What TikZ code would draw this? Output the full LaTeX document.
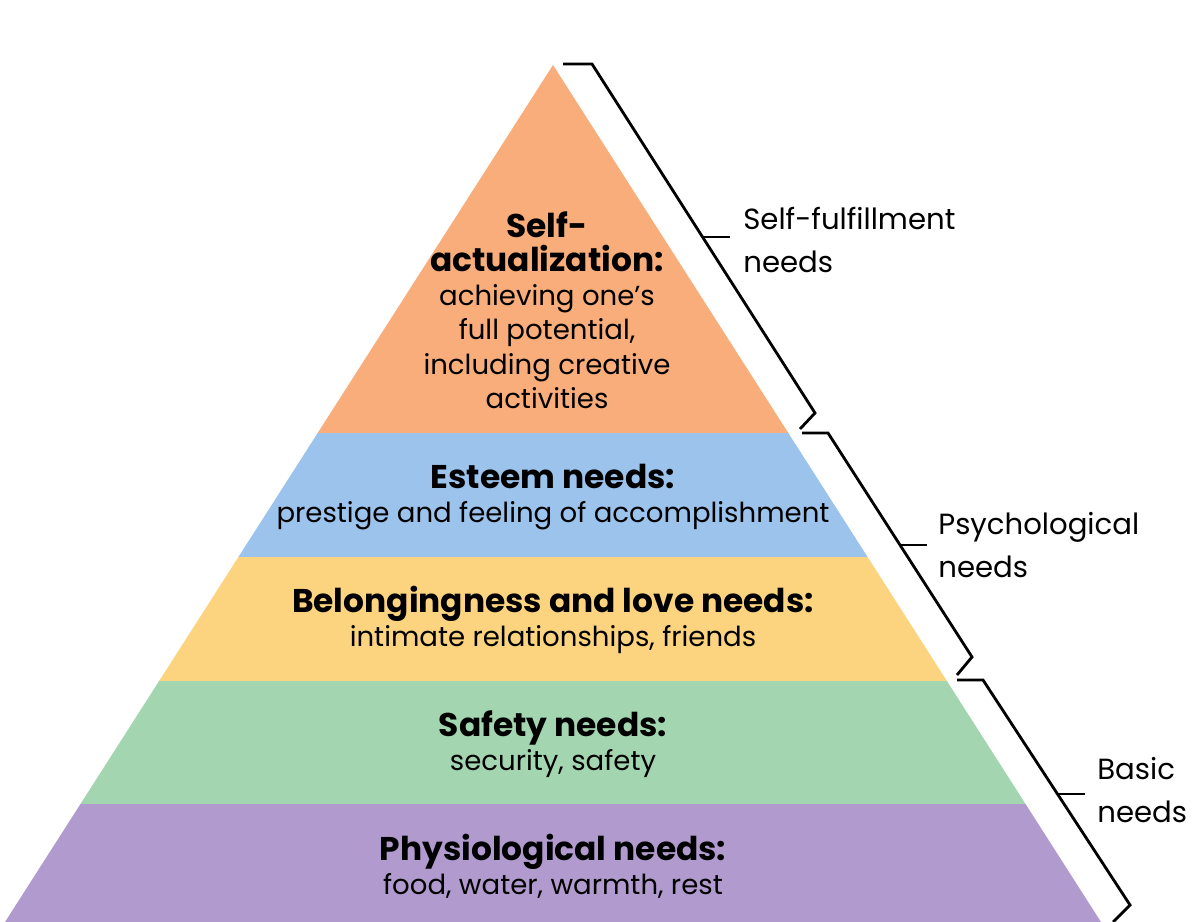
\documentclass[tikz,border=0pt]{standalone}
\usepackage{fontspec}
\setmainfont{Poppins}
\definecolor{NeedOrange}{HTML}{F8AD7B}
\definecolor{NeedBlue}{HTML}{9BC3EC}
\definecolor{NeedYellow}{HTML}{FCD47F}
\definecolor{NeedGreen}{HTML}{A3D6B0}
\definecolor{NeedPurple}{HTML}{B19BCE}
\newcommand{\needhead}[1]{{\fontsize{18.7}{19.5}\selectfont\bfseries #1}}
\tikzset{
  level/.style={font=\fontsize{15.7}{19.5}\selectfont,align=center,text=black},
  side/.style={font=\fontsize{16.6}{24}\selectfont,align=left,anchor=west,text=black,inner sep=0pt},
  brace/.style={draw=black,line width=1.6pt,line join=miter}
}

\begin{document}
\begin{tikzpicture}[x=0.02cm,y=-0.02cm]
  \useasboundingbox (0,0) rectangle (1199,922);
  \coordinate (apex) at (553,65);
  \coordinate (baseL) at (5,922);
  \coordinate (baseR) at (1101,922);

  % bands of the pyramid
  \begin{scope}
    \clip (apex) -- (baseL) -- (baseR) -- cycle;
    \fill[NeedOrange] (0,60) rectangle (1199,433);
    \fill[NeedBlue] (0,433) rectangle (1199,557);
    \fill[NeedYellow] (0,557) rectangle (1199,681);
    \fill[NeedGreen] (0,681) rectangle (1199,804);
    \fill[NeedPurple] (0,804) rectangle (1199,922);
  \end{scope}

  \node[level] (selfact) at (547,310)
    {\needhead{Self-}\\\needhead{actualization:}\\achieving one’s\\full potential,\\including creative\\activities};
  \node[level] (esteem) at (553,497)
    {\needhead{Esteem needs:}\\prestige and feeling of accomplishment};
  \node[level] (belong) at (553,620)
    {\needhead{Belongingness and love needs:}\\intimate relationships, friends};
  \node[level] (safety) at (553,744)
    {\needhead{Safety needs:}\\security, safety};
  \node[level] (physio) at (553,866)
    {\needhead{Physiological needs:}\\food, water, warmth, rest};

  % side labels
  \node[side] (fulfil) at (743,240) {Self-fulfillment\\needs};
  \node[side] (psych) at (938,545) {Psychological\\needs};
  \node[side] (basic) at (1097,790) {Basic\\needs};

  % braces
  \draw[brace] (563,64) -- (592,64) -- (815,413) -- (800,429);
  \draw[brace] (702.5,237) -- (730,237);
  \draw[brace] (802,433) -- (828,433) -- (972,657) -- (957,675);
  \draw[brace] (899.5,545) -- (927,545);
  \draw[brace] (957,680) -- (983,680) -- (1130,905) -- (1113,922);
  \draw[brace] (1057,794) -- (1085,794);
\end{tikzpicture}
\end{document}
